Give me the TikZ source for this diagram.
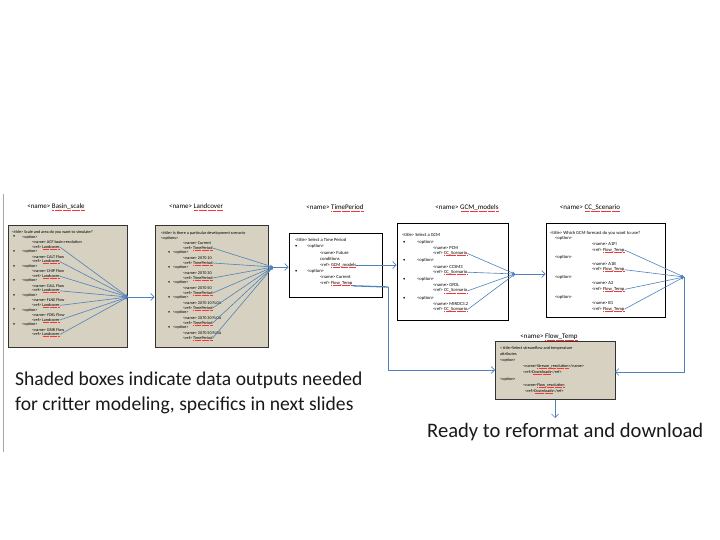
\documentclass[tikz,border=0pt]{standalone}
\usepackage{fontspec}
\setmainfont{Carlito}
\usetikzlibrary{arrows.meta,shadows}
\definecolor{linkblue}{RGB}{79,129,189}
\definecolor{shadetan}{RGB}{214,209,192}
\newsavebox\sqbox
\newcommand\sq[1]{\sbox\sqbox{#1}\rlap{\lower0.45ex\hbox to\wd\sqbox{\color{red!80}\xleaders\hbox to1.1pt{\hss\vrule width0.35pt height0.3pt\hss}\hfill}}\usebox\sqbox}
\begin{document}
\begin{tikzpicture}[x=1pt,y=-1pt,
  txs/.style={anchor=west,inner sep=0pt,font=\fontsize{4.2}{5}\selectfont},
  txw/.style={anchor=west,inner sep=0pt,font=\fontsize{4.6}{5.5}\selectfont},
  ttl/.style={inner sep=0pt,font=\fontsize{7}{8}\selectfont},
  shbox/.style={draw=black!80,line width=1pt,fill=shadetan,inner sep=0pt,
    drop shadow={shadow xshift=1.3pt,shadow yshift=-1.3pt,fill=black!50,opacity=1}},
  wbox/.style={draw=black,line width=0.9pt,fill=white,inner sep=0pt},
  link/.style={draw=linkblue,line width=0.6pt},
  tip/.style={-{Straight Barb[length=3.5pt,width=7pt]}},
  cv/.style={-{Stealth[length=3pt,width=3pt]}},
  big/.style={anchor=west,inner sep=0pt,text=black!90}
]
\useasboundingbox (0,0) rectangle (720,540);
\draw[black!35,line width=0.8pt] (3,194) -- (3,452);

% ---------- Basin_scale ----------
\node[ttl] (tbasin) at (56,207) {<name> \sq{Basin\_scale}};
\node[shbox,minimum width=119pt,minimum height=121pt] (basin) at (67.5,286.5) {};
\node[txs] (bt) at (12,232) {<title> Scale and area do you want to simulate?};
\foreach \n [count=\k from 0] in {ACF basin resolution,CALT Flow,CHIP Flow,CALL Flow,FLNE Flow,YOEL Flow,GRIR Flow}{
  \pgfmathsetmacro\yy{237+14.6*\k}
  \node[txs] (bb\k) at (13,\yy) {•};
  \node[txs] (bo\k) at (22,\yy) {<option>};
  \node[txs] (bn\k) at (32,\yy+5) {<name> \n};
  \node[txs] (br\k) at (32,\yy+10) {<ref> \sq{Landcover}};
}
\coordinate (bc) at (128,297);
\foreach \k in {0,...,6} \draw[link,cv] (br\k.east) -- (bc);

% ---------- Landcover ----------
\node[ttl] (tland) at (196,207) {<name> \sq{Landcover}};
\node[shbox,minimum width=113pt,minimum height=121pt] (land) at (211.5,286.5) {};
\node[txs] (lt) at (161,233) {<title> Is there a particular development scenario};
\node[txs] (lo) at (161,238) {<options>};
\foreach \n [count=\k from 0] in {Current,2070 10,2070 30,2070 50,2070 10 FLGA,2070 30 FLGA,2070 50 FLGA}{
  \pgfmathsetmacro\yy{243+15*\k}
  \ifnum\k>0
    \node[txs] (lb\k) at (168,\yy-5.5) {•};
    \node[txs] (lp\k) at (173,\yy-5.5) {<option>};
  \fi
  \node[txs] (ln\k) at (183,\yy) {<name> \n};
  \node[txs] (lr\k) at (183,\yy+5) {<ref> \sq{TimePeriod}};
}
\coordinate (lc) at (273,267);
\foreach \k in {0,...,6} \draw[link,cv] (lr\k.east) -- (lc);

% ---------- TimePeriod ----------
\node[ttl] (ttime) at (335,208) {<name> \sq{TimePeriod}};
\node[wbox,minimum width=93pt,minimum height=64pt] (time) at (335.5,265) {};
\node[txw] (tpt) at (295,240) {<title> Select a Time Period};
\node[txw] (tpb1) at (295,246) {•};
\node[txw] (tpo1) at (307,246) {<option>};
\node[txw] (tpn1) at (320,253) {<name> Future};
\node[txw] (tpc1) at (320,258.5) {conditions};
\node[txw] (tpr1) at (320,265) {<ref> \sq{GCM\_models}};
\node[txw] (tpb2) at (295,271) {•};
\node[txw] (tpo2) at (307,271) {<option>};
\node[txw] (tpn2) at (320,277) {<name> Current};
\node[txw] (tpr2) at (320,283.5) {<ref> \sq{Flow\_Temp}};

% ---------- GCM_models ----------
\node[ttl] (tgcm) at (467,208) {<name> \sq{GCM\_models}};
\node[wbox,minimum width=111pt,minimum height=97pt] (gcm) at (452.5,271.5) {};
\node[txw] (gt) at (402,235) {<title> Select a GCM};
\foreach \n [count=\k from 0] in {PCM,CCSM3,GFDL,MIROC3.2}{
  \pgfmathsetmacro\yy{242+18.7*\k}
  \node[txw] (gb\k) at (403,\yy) {•};
  \node[txw] (go\k) at (417,\yy) {<option>};
  \node[txw] (gn\k) at (433,\yy+6) {<name> \n};
  \node[txw] (gr\k) at (433,\yy+11.5) {<ref> \sq{CC\_Scenario}};
}
\coordinate (gc) at (515,274);
\foreach \k in {0,...,3} \draw[link,cv] (gr\k.east) -- (gc);

% ---------- CC_Scenario ----------
\node[ttl] (tcc) at (590,208) {<name> \sq{CC\_Scenario}};
\node[wbox,minimum width=119pt,minimum height=94pt] (cc) at (605.5,270) {};
\node[txw] (ct) at (550,233) {<title> Which GCM forecast do you want to use?};
\foreach \n [count=\k from 0] in {A1FI,A1B,A2,B1}{
  \pgfmathsetmacro\yy{238+19.7*\k}
  \node[txw] (co\k) at (555,\yy) {<option>};
  \node[txw] (cn\k) at (592,\yy+6) {<name> \n};
  \node[txw] (cr\k) at (592,\yy+12) {<ref> \sq{Flow\_Temp}};
}
\coordinate (ccc) at (684,277);
\foreach \k in {0,...,3} \draw[link,cv] (cr\k.east) -- (ccc);

% ---------- Flow_Temp ----------
\node[ttl] (tflow) at (549,337) {<name> \sq{Flow\_Temp}};
\node[shbox,minimum width=120pt,minimum height=58pt] (flow) at (555,370) {};
\node[txs] (ft1) at (500,348) {< title>Select streamflow and temperature};
\node[txs] (ft2) at (500,354) {attributes};
\node[txs] (fo1) at (500,360) {<option>};
\node[txs] (fn1) at (523,366) {<name>\sq{Stream\_resolution}</name>};
\node[txs] (fr1) at (523,372) {<ref>\sq{Downloads}</ref>};
\node[txs] (fo2) at (500,379) {<option>};
\node[txs] (fn2) at (523,385) {<name>\sq{Flow\_resolution}};
\node[txs] (fr2) at (525,391) {<ref>\sq{Downloads}</ref>};

% ---------- notes ----------
\node[big,font=\fontsize{19.6}{24}\selectfont] (note1) at (15,380) {Shaded boxes indicate data outputs needed};
\node[big,font=\fontsize{19.6}{24}\selectfont] (note2) at (15,405) {for critter modeling, specifics in next slides};
\node[big,font=\fontsize{20.6}{24}\selectfont] (ready) at (427,432) {Ready to reformat and download};

% ---------- main connectors ----------
\draw[link,tip] (bc) -- (bc -| land.west);
\draw[link,tip] (lc) -- (lc -| time.west);
\draw[link,tip] (tpr1.east) -- (tpr1.east -| gcm.west);
\draw[link,tip] (gc) -- (gc -| cc.west);
\coordinate (tpk) at (388,287);
\coordinate (fin) at (495,370);
\draw[link,line width=1.3pt] (tpr2.south east) -- (tpk);
\draw[link,tip] (tpk) -- (tpk |- fin) -- (fin);
\coordinate (fin2) at (615,372);
\draw[link,tip] (ccc) -- (ccc |- fin2) -- (fin2);
\draw[link,tip] (flow.south) -- (555,418);
\end{tikzpicture}
\end{document}
